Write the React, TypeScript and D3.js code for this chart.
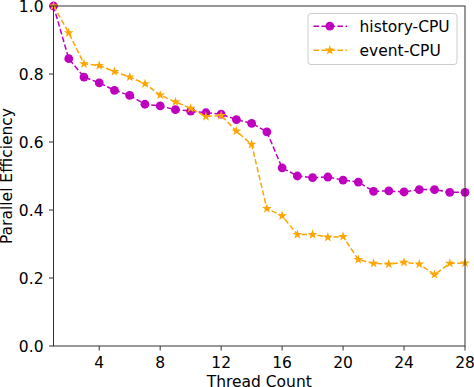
import * as d3 from "d3";
import React from "react";

// thread counts 1..28
const threads = [
  1, 2, 3, 4, 5, 6, 7, 8, 9, 10, 11, 12, 13, 14,
  15, 16, 17, 18, 19, 20, 21, 22, 23, 24, 25, 26, 27, 28,
];

const historyCPU = [
  1.0, 0.845, 0.791, 0.774, 0.752, 0.737, 0.711, 0.706, 0.695, 0.691, 0.686, 0.682, 0.666, 0.655,
  0.63, 0.524, 0.5, 0.495, 0.497, 0.488, 0.482, 0.455, 0.456, 0.453, 0.46, 0.46, 0.452, 0.452,
];

const eventCPU = [
  1.0, 0.921, 0.83, 0.825, 0.807, 0.791, 0.771, 0.738, 0.718, 0.699, 0.675, 0.678, 0.632, 0.593,
  0.404, 0.383, 0.328, 0.328, 0.32, 0.322, 0.254, 0.243, 0.241, 0.246, 0.241, 0.21, 0.243, 0.244,
];

const xTicks = [4, 8, 12, 16, 20, 24, 28];
const yTicks = [0, 0.2, 0.4, 0.6, 0.8, 1.0];

const series = [
  { name: "history-CPU", values: historyCPU, color: "#bf00bf", marker: "circle" },
  { name: "event-CPU", values: eventCPU, color: "#ffa500", marker: "star" },
];

const width = 474;
const height = 387;
const margin = { top: 6, right: 9, bottom: 41, left: 53.5 };

const star = d3.symbol().type(d3.symbolStar).size(30);

function Marker({ kind, x, y, color }: { kind: string; x: number; y: number; color: string }) {
  if (kind === "circle") return <circle cx={x} cy={y} r={4.4} fill={color} />;
  return <path d={star() ?? ""} transform={`translate(${x},${y})`} fill={color} />;
}

export default function App() {
  const xScale = d3.scaleLinear()
    .domain([1, 28])
    .range([margin.left, width - margin.right]);

  const yScale = d3.scaleLinear()
    .domain([0, 1])
    .range([height - margin.bottom, margin.top]);

  const line = d3.line<number>()
    .x((_, i) => xScale(threads[i]))
    .y((d) => yScale(d));

  const x0 = margin.left;
  const x1 = width - margin.right;
  const y0 = height - margin.bottom;
  const y1 = margin.top;
  const axisColor = "#333";
  const font = "DejaVu Sans, sans-serif";
  const fs = 15.5;

  return (
    <svg width={width} height={height} style={{ position: "absolute", left: 0, top: 0, background: "#fff" }}>
      {series.map((s) => (
        <g key={s.name}>
          <path d={line(s.values) ?? ""} fill="none" stroke={s.color} strokeWidth={1.5} strokeDasharray="5.5,2.5" />
          {s.values.map((v, i) => (
            <Marker key={i} kind={s.marker} x={xScale(threads[i])} y={yScale(v)} color={s.color} />
          ))}
        </g>
      ))}

      {/* frame */}
      <rect x={x0} y={y1} width={x1 - x0} height={y0 - y1} fill="none" stroke={axisColor} strokeWidth={1} />

      {/* x axis */}
      {xTicks.map((t) => (
        <g key={t} transform={`translate(${xScale(t)},${y0})`}>
          <line y2={4.5} stroke={axisColor} />
          <text y={21.5} textAnchor="middle" fontFamily={font} fontSize={fs} fill="#000">{t}</text>
        </g>
      ))}
      <text x={(x0 + x1) / 2} y={386.5} textAnchor="middle" fontFamily={font} fontSize={fs} fill="#000">
        Thread Count
      </text>

      {/* y axis */}
      {yTicks.map((t) => (
        <g key={t} transform={`translate(${x0},${yScale(t)})`}>
          <line x2={-4.5} stroke={axisColor} />
          <text x={-10} dy="0.36em" textAnchor="end" fontFamily={font} fontSize={fs} fill="#000">{t.toFixed(1)}</text>
        </g>
      ))}
      <text
        transform={`translate(12,${(y0 + y1) / 2}) rotate(-90)`}
        textAnchor="middle"
        fontFamily={font}
        fontSize={fs}
        fill="#000"
      >
        Parallel Efficiency
      </text>

      {/* legend */}
      <g transform="translate(308,13.5)">
        <rect width={149} height={51} rx={3} fill="#fff" fillOpacity={0.8} stroke="#ccc" />
        {series.map((s, i) => (
          <g key={s.name} transform={`translate(0,${12.7 + i * 24})`}>
            <line x1={5.5} x2={39} stroke={s.color} strokeWidth={1.5} strokeDasharray="5.5,2.5" />
            <Marker kind={s.marker} x={21.8} y={0} color={s.color} />
            <text x={51.5} dy="0.36em" fontFamily={font} fontSize={fs} fill="#000">{s.name}</text>
          </g>
        ))}
      </g>
    </svg>
  );
}
